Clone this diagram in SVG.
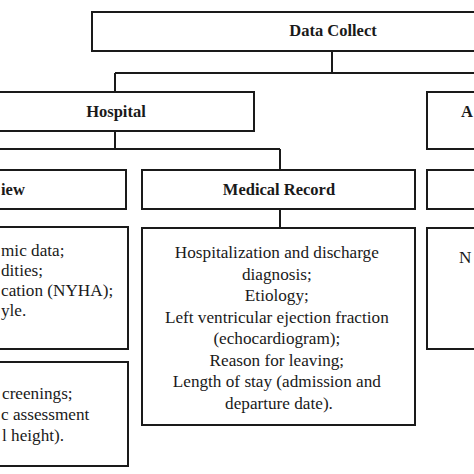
<svg xmlns="http://www.w3.org/2000/svg" width="474" height="474" viewBox="0 0 474 474">
<style>
.box{fill:#fff;stroke:#1a1a1a;stroke-width:2}
.con{fill:none;stroke:#1a1a1a;stroke-width:2}
.h{font-family:"Liberation Serif",serif;font-weight:bold;font-size:16.5px;fill:#1a1a1a}
.t{font-family:"Liberation Serif",serif;font-size:17.2px;fill:#1a1a1a}
</style>
<rect width="474" height="474" fill="#fff"/>
<g id="connectors">
<path class="con" d="M332 51V73M115 73H476M115 73V92"/>
<path class="con" d="M115 131V149M-2 149H280M280 149V170"/>
<path class="con" d="M280 209V228"/>
</g>
<g id="data-collect">
<rect class="box" x="92" y="12" width="400" height="39"/>
<text class="h" x="333" y="36" text-anchor="middle">Data Collect</text>
</g>
<g id="hospital">
<rect class="box" x="-10" y="92" width="264" height="39"/>
<text class="h" x="116" y="117" text-anchor="middle">Hospital</text>
</g>
<g id="right-top">
<rect class="box" x="427" y="92" width="60" height="57"/>
<text class="h" x="461" y="117">A</text>
</g>
<g id="interview">
<rect class="box" x="-10" y="170" width="136" height="39"/>
<text class="h" x="1" y="195">iew</text>
</g>
<g id="medical-record">
<rect class="box" x="142" y="170" width="273" height="39"/>
<text class="h" x="279" y="195" text-anchor="middle">Medical Record</text>
</g>
<g id="right-mid">
<rect class="box" x="427" y="170" width="60" height="39"/>
</g>
<g id="interview-content">
<rect class="box" x="-10" y="227" width="138" height="122"/>
<text class="t">
<tspan x="1" y="256">mic data;</tspan>
<tspan x="1" y="276">dities;</tspan>
<tspan x="1" y="296">cation (NYHA);</tspan>
<tspan x="1" y="316">yle.</tspan>
</text>
</g>
<g id="screening-content">
<rect class="box" x="-10" y="362" width="138" height="104"/>
<text class="t">
<tspan x="2" y="399">creenings;</tspan>
<tspan x="1" y="420">c assessment</tspan>
<tspan x="2" y="441">l height).</tspan>
</text>
</g>
<g id="medical-content">
<rect class="box" x="142" y="228" width="273" height="197"/>
<text class="t" text-anchor="middle">
<tspan x="279" y="258">Hospitalization and discharge</tspan>
<tspan x="279" y="279.5">diagnosis;</tspan>
<tspan x="279" y="301">Etiology;</tspan>
<tspan x="279" y="322.5">Left ventricular ejection fraction</tspan>
<tspan x="279" y="344">(echocardiogram);</tspan>
<tspan x="279" y="365.5">Reason for leaving;</tspan>
<tspan x="279" y="387">Length of stay (admission and</tspan>
<tspan x="279" y="408.5">departure date).</tspan>
</text>
</g>
<g id="right-content">
<rect class="box" x="427" y="228" width="60" height="121"/>
<text class="t" x="459" y="263">N</text>
</g>
</svg>
